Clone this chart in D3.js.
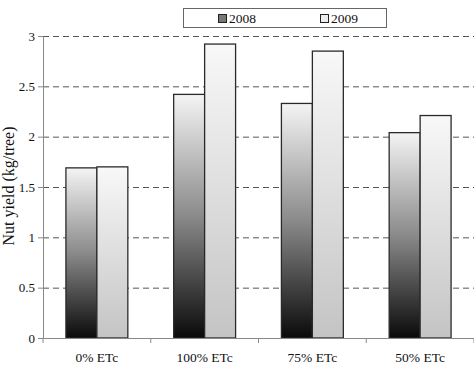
<!DOCTYPE html>
<meta charset="utf-8">
<style>
body { margin: 0; background: #fff; }
text { font-family: "Liberation Serif", "Times New Roman", serif; fill: #111; }
</style>
<body>
<script src="https://d3js.org/d3.v7.min.js"></script>
<script>

// data
var categories = ["0% ETc", "100% ETc", "75% ETc", "50% ETc"];
var years = ["2008", "2009"];
var yield2008 = [1.69, 2.42, 2.33, 2.04];
var yield2009 = [1.70, 2.92, 2.85, 2.21];
var yTicks = [0, 0.5, 1, 1.5, 2, 2.5, 3];

var W = 474, H = 371;
var margin = {top: 36, right: 0, bottom: 33, left: 43};

var svg = d3.select("body").append("svg")
    .attr("width", W)
    .attr("height", H);

// gradients for the bars
var defs = svg.append("defs");
var g08 = defs.append("linearGradient").attr("id", "g2008")
    .attr("x1", 0).attr("y1", 0).attr("x2", 0).attr("y2", 1);
g08.append("stop").attr("offset", "0%").attr("stop-color", "#f4f4f4");
g08.append("stop").attr("offset", "50%").attr("stop-color", "#8a8a8a");
g08.append("stop").attr("offset", "100%").attr("stop-color", "#0a0a0a");
var g09 = defs.append("linearGradient").attr("id", "g2009")
    .attr("x1", 0).attr("y1", 0).attr("x2", 0).attr("y2", 1);
g09.append("stop").attr("offset", "0%").attr("stop-color", "#f8f8f8");
g09.append("stop").attr("offset", "100%").attr("stop-color", "#c4c4c4");
var fills = {"2008": "url(#g2008)", "2009": "url(#g2009)"};

var x0 = d3.scaleBand()
    .domain(categories)
    .range([margin.left, W - margin.right])
    .padding(0);

var x1 = d3.scaleBand()
    .domain(years)
    .range([0, x0.bandwidth()])
    .paddingInner(0)
    .paddingOuter(0.74);

var y = d3.scaleLinear()
    .domain([0, 3])
    .range([H - margin.bottom, margin.top]);

// dashed grid lines
svg.append("g").selectAll("line")
    .data(yTicks.filter(function(d) { return d > 0; }))
    .enter().append("line")
    .attr("x1", margin.left)
    .attr("x2", W)
    .attr("y1", function(d) { return y(d) + 0.5; })
    .attr("y2", function(d) { return y(d) + 0.5; })
    .attr("stroke", "#555")
    .attr("stroke-width", 1)
    .attr("stroke-dasharray", "6,4");

// bars
var rows = categories.map(function(c, i) {
  return {cat: c, values: [{year: "2008", v: yield2008[i]}, {year: "2009", v: yield2009[i]}]};
});

svg.append("g").selectAll("g")
    .data(rows)
    .enter().append("g")
    .attr("transform", function(d) { return "translate(" + x0(d.cat) + ",0)"; })
    .selectAll("rect")
    .data(function(d) { return d.values; })
    .enter().append("rect")
    .attr("x", function(d) { return x1(d.year); })
    .attr("width", x1.bandwidth())
    .attr("y", function(d) { return y(d.v); })
    .attr("height", function(d) { return y(0) - y(d.v); })
    .attr("fill", function(d) { return fills[d.year]; })
    .attr("stroke", "#2a2a2a")
    .attr("stroke-width", 1.3);

// y axis
var yAxis = svg.append("g")
    .attr("transform", "translate(" + margin.left + ",0)")
    .call(d3.axisLeft(y).tickValues(yTicks).tickSize(5).tickFormat(d3.format("")));
yAxis.select(".domain").attr("stroke", "#888");
yAxis.selectAll(".tick line").attr("stroke", "#888");
yAxis.selectAll("text").attr("font-size", 13).attr("fill", "#111");

// x axis
var xAxis = svg.append("g")
    .attr("transform", "translate(0," + y(0) + ")")
    .call(d3.axisBottom(x0).tickSize(0).tickPadding(14));
xAxis.select(".domain").attr("stroke", "#888");
xAxis.selectAll("text").attr("font-size", 13.5).attr("fill", "#111");
// category boundary ticks
xAxis.append("g").selectAll("line")
    .data(categories.concat(["end"]))
    .enter().append("line")
    .attr("x1", function(d, i) { return margin.left + i * x0.bandwidth(); })
    .attr("x2", function(d, i) { return margin.left + i * x0.bandwidth(); })
    .attr("y1", 0).attr("y2", 5)
    .attr("stroke", "#888");

// y axis title
svg.append("text")
    .attr("transform", "translate(14,186) rotate(-90)")
    .attr("text-anchor", "middle")
    .attr("font-size", 16)
    .text("Nut yield (kg/tree)");

// legend
var legend = svg.append("g");
legend.append("rect")
    .attr("x", 183.5).attr("y", 8.5)
    .attr("width", 203).attr("height", 19)
    .attr("fill", "#fff")
    .attr("stroke", "#666");
var lx = [218, 320];
years.forEach(function(yr, i) {
  legend.append("rect")
      .attr("x", lx[i] + 0.5).attr("y", 14.5)
      .attr("width", 8).attr("height", 8)
      .attr("fill", yr === "2008" ? "#777" : "#eee")
      .attr("stroke", "#222");
  legend.append("text")
      .attr("x", lx[i] + 11)
      .attr("y", 23)
      .attr("font-size", 13.5)
      .text(yr);
});

</script>
</body>
